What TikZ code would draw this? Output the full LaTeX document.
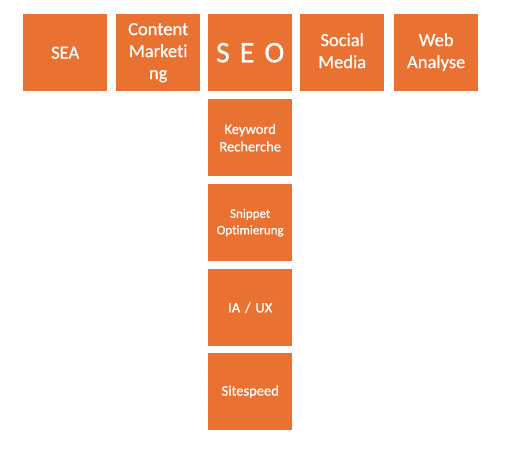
\documentclass[tikz,border=0pt]{standalone}
\usepackage{fontspec}
\setmainfont{Carlito}[Ligatures=NoCommon, FakeBold=0.6]
\definecolor{boxorange}{HTML}{E97132}
\begin{document}
\begin{tikzpicture}[x=1pt,y=-1pt,
  tile/.style={rectangle, fill=boxorange, draw=none, inner sep=0pt, anchor=north west,
    minimum width=84pt, minimum height=77pt, text=white, align=center, text width=84pt},
  big/.style={font=\fontsize{18.5}{22}\selectfont},
  small/.style={font=\fontsize{14.5}{17.5}\selectfont},
]
\useasboundingbox (0,0) rectangle (516,463);
\node[tile,big] (sea) at (23,14) {SEA};
\node[tile,big] (cm) at (116,14) {Content\\Marketi\\ng};
\node[tile,font=\fontsize{30}{36}\selectfont] (seo) at (208,14) {S E O};
\node[tile,big] (sm) at (300,14) {\strut Social\\Media\strut};
\node[tile,big] (wa) at (394,14) {\strut Web\\Analyse\strut};
\node[tile,small] (kw) at (208,99) {Keyword\\Recherche};
\node[tile,font=\fontsize{13}{16.5}\selectfont] (so) at (208,184) {Snippet\\Optimierung};
\node[tile,small] (ia) at (208,269) {IA / UX};
\node[tile,small] (ss) at (208,353) {Sitespeed};
\end{tikzpicture}
\end{document}
